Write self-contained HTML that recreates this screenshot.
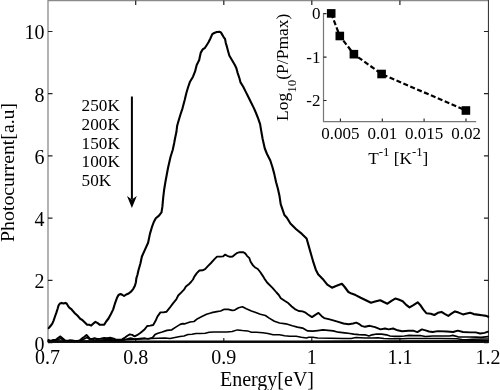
<!DOCTYPE html>
<html><head><meta charset="utf-8"><style>
html,body{margin:0;padding:0;background:#fff;width:500px;height:390px;overflow:hidden}
svg{display:block}
text{font-family:"Liberation Serif","Times New Roman",serif;fill:#000}
</style></head><body>
<svg width="500" height="390" viewBox="0 0 500 390">
<path d="M48.0,342.6V0.5H488.45" fill="none" stroke="#8a8a8a" stroke-width="1.3"/>
<path d="M488.45,0V343" fill="none" stroke="#3a3a3a" stroke-width="1.1"/>
<path d="M48.0,342.6h4.5M488.45,342.6h-4.5M48.0,280.4h4.5M488.45,280.4h-4.5M48.0,218.2h4.5M488.45,218.2h-4.5M48.0,155.9h4.5M488.45,155.9h-4.5M48.0,93.7h4.5M488.45,93.7h-4.5M48.0,31.5h4.5M488.45,31.5h-4.5M135.7,342.6v-4.5M135.7,0.5v4.5M223.8,342.6v-4.5M223.8,0.5v4.5M311.8,342.6v-4.5M311.8,0.5v4.5M399.9,342.6v-4.5M399.9,0.5v4.5" stroke="#222" stroke-width="1.2" fill="none"/>
<polyline points="48.4,341.6 300.0,341.4 350.0,341.2 488.0,341.1" fill="none" stroke="#000" stroke-width="2.0" stroke-linejoin="round" stroke-linecap="round"/>
<polyline points="48.4,341.0 100.0,341.0 140.0,339.0 151.0,338.5 165.0,338.0 170.0,338.5 175.0,337.5 180.0,336.5 184.0,336.0 188.0,334.5 192.0,334.3 196.0,333.5 200.1,333.5 205.3,333.2 209.1,332.2 214.2,331.9 220.6,331.9 227.0,331.9 232.2,331.5 237.3,329.9 242.4,330.6 247.6,330.9 251.4,332.2 256.4,332.2 262.8,332.8 267.9,333.5 273.1,334.7 279.5,334.7 284.6,335.8 289.7,336.3 296.2,336.3 301.3,337.3 306.4,337.9 308.8,337.3 312.7,337.3 317.8,338.0 330.6,338.3 343.5,338.6 351.2,338.6 356.0,337.6 364.8,338.0 372.0,338.0 378.0,337.8 384.0,338.6 390.0,338.8 402.0,338.8 408.0,338.6 414.0,338.4 420.0,338.4 440.0,338.6 457.0,338.7 462.0,339.6 466.0,339.8 472.0,339.2 488.0,339.0" fill="none" stroke="#000" stroke-width="1.5" stroke-linejoin="round" stroke-linecap="round"/>
<polyline points="48.4,341.0 55.0,340.5 58.0,339.5 61.0,338.5 64.0,340.5 70.0,341.0 80.0,341.0 84.0,339.0 87.0,337.5 90.0,339.5 95.0,340.0 100.0,340.0 110.0,339.5 118.0,340.5 124.6,339.8 130.6,338.0 135.4,339.2 140.0,338.6 145.0,338.2 148.0,339.0 152.6,337.6 155.0,334.6 158.0,333.2 162.2,332.0 167.0,330.4 171.8,329.8 175.4,327.4 180.2,324.4 182.6,323.6 185.0,323.8 190.0,322.0 194.0,321.5 197.6,318.7 201.4,316.8 206.5,314.2 211.7,312.7 216.8,311.7 220.6,311.0 223.8,309.4 228.3,309.4 232.2,310.4 234.7,310.1 238.6,307.8 242.4,306.8 246.3,308.8 251.4,311.0 255.1,312.3 260.3,314.2 265.4,315.5 269.2,318.1 274.4,321.3 279.5,323.0 285.9,323.8 292.3,325.8 297.4,327.1 302.6,328.1 306.4,330.3 307.6,330.9 312.7,331.2 317.8,330.6 323.0,329.9 328.1,330.3 333.2,330.9 338.3,332.2 344.7,332.8 349.9,333.5 353.7,334.1 358.8,334.7 365.0,334.8 369.0,336.0 372.0,334.8 376.8,334.0 381.6,334.2 386.4,334.8 390.0,336.0 394.8,336.4 399.6,336.4 404.4,336.0 409.2,335.4 414.0,335.6 420.0,335.5 425.4,336.5 432.6,336.0 440.0,336.0 449.6,336.0 452.8,335.4 458.0,336.8 470.0,337.0 476.0,337.2 481.0,337.4 488.0,336.7" fill="none" stroke="#000" stroke-width="1.7" stroke-linejoin="round" stroke-linecap="round"/>
<polyline points="48.4,340.0 50.8,340.8 53.2,340.0 55.6,340.0 58.0,338.0 60.4,336.4 62.8,338.4 65.2,340.4 67.6,340.8 70.0,340.2 72.4,340.4 74.8,341.0 77.2,341.0 79.6,340.4 82.0,338.4 84.4,336.8 86.5,335.0 89.8,338.6 92.2,339.0 94.6,338.2 97.0,339.0 100.6,338.6 104.2,338.0 107.2,338.2 110.2,337.8 113.8,338.6 116.2,339.8 119.8,339.8 122.0,339.4 125.0,337.6 127.4,335.8 129.8,334.4 132.2,334.9 134.6,336.4 137.0,335.2 140.6,332.8 144.2,329.8 147.2,326.0 150.2,325.6 153.2,325.0 155.6,320.8 157.4,316.6 160.4,312.4 163.4,312.4 166.4,311.8 169.4,308.2 173.0,303.4 176.3,299.4 178.2,295.5 181.4,292.3 184.0,289.7 185.9,286.5 188.5,284.6 191.0,282.0 193.0,279.5 194.2,276.9 196.8,273.1 199.4,270.5 202.6,270.3 205.1,269.2 207.4,266.6 211.0,263.0 214.0,259.6 217.0,256.6 220.6,256.6 223.0,256.4 225.2,254.6 227.2,255.8 230.2,256.8 232.6,256.6 235.0,254.6 237.4,252.8 239.8,252.2 243.4,252.2 245.2,253.4 247.0,255.8 249.4,258.2 250.6,261.8 253.0,265.4 254.8,267.2 257.8,269.0 260.2,272.0 262.6,275.6 264.4,278.6 267.1,282.5 272.5,287.9 276.5,292.5 278.8,295.0 280.8,298.2 284.6,300.8 288.5,303.3 291.7,306.5 294.9,309.1 298.7,311.0 302.6,311.4 305.0,312.3 307.6,314.2 312.0,317.1 315.3,314.9 318.5,312.9 321.7,316.2 324.2,318.1 328.7,319.1 333.2,320.4 338.3,321.9 343.5,323.5 348.6,324.2 353.1,323.5 356.3,322.6 358.8,323.8 361.4,325.8 365.0,326.8 369.7,325.8 375.1,327.2 380.5,329.4 385.0,328.5 388.6,329.4 393.1,328.5 397.6,330.3 402.1,331.2 408.4,330.8 413.8,330.8 417.4,332.1 421.9,329.4 425.5,330.3 429.0,331.5 432.6,332.0 437.9,331.1 446.9,331.5 453.2,332.0 457.7,330.6 463.0,332.0 470.2,332.4 475.6,332.4 480.1,333.5 484.6,332.9 488.0,331.7" fill="none" stroke="#000" stroke-width="1.9" stroke-linejoin="round" stroke-linecap="round"/>
<polyline points="48.7,328.2 50.5,326.0 52.3,323.7 53.6,320.6 55.0,316.5 56.3,312.9 57.7,308.5 58.6,305.3 59.9,303.5 61.7,302.9 63.5,303.5 65.3,302.9 66.6,303.5 68.0,305.8 69.3,307.6 71.6,309.3 72.9,311.1 75.1,313.4 77.4,315.6 79.6,317.9 80.0,318.7 82.3,320.0 84.6,322.3 86.9,324.6 89.2,324.8 91.2,325.6 93.1,323.8 95.4,321.9 97.7,323.1 99.6,324.6 101.9,324.8 104.2,324.6 106.2,321.5 108.5,318.5 110.8,314.2 113.1,309.6 114.9,303.7 116.9,298.1 118.5,295.0 120.5,294.0 122.6,295.0 124.1,296.0 126.2,294.5 128.7,293.5 131.3,291.4 133.3,288.8 134.9,285.8 135.9,282.2 136.4,278.1 137.4,275.0 138.4,270.5 140.4,263.5 141.9,256.5 145.0,249.6 148.1,242.7 150.0,233.6 151.9,227.2 153.8,222.0 155.8,218.2 159.0,215.6 161.5,212.4 162.4,206.7 163.2,197.7 164.1,190.0 165.4,182.0 168.0,168.0 170.5,157.0 172.7,150.0 174.2,143.0 175.0,138.5 176.5,131.5 177.1,126.0 178.3,121.7 180.3,115.0 182.5,108.3 184.7,100.0 186.3,93.3 188.0,87.5 190.0,81.7 193.0,76.7 195.0,71.7 196.7,65.0 199.2,60.0 199.8,57.0 200.8,52.6 202.7,49.4 205.0,47.8 206.5,45.5 208.5,42.3 210.4,38.5 212.3,34.2 214.2,33.0 216.8,32.0 219.4,31.7 220.9,32.4 222.2,34.6 223.5,36.8 225.1,39.1 225.8,43.0 227.1,47.4 228.3,51.9 229.4,55.8 230.9,58.3 232.8,61.5 234.7,64.7 236.3,68.0 237.7,73.1 239.5,78.5 240.4,82.1 243.1,86.5 245.8,91.9 248.5,97.3 251.2,102.7 253.9,108.1 256.2,113.5 258.3,118.9 260.1,124.2 261.0,129.6 262.6,138.7 264.8,148.5 267.0,154.0 270.3,160.5 272.4,167.0 274.2,173.6 276.1,182.3 277.9,188.8 279.4,195.4 280.7,204.1 282.9,210.6 284.4,215.0 286.9,217.7 290.4,223.5 296.2,229.2 301.9,233.9 306.6,238.5 308.9,246.6 311.2,254.7 313.5,262.7 315.8,269.7 318.1,274.3 322.7,278.9 327.3,284.7 332.0,287.7 336.6,285.8 341.9,283.8 344.3,286.5 348.4,292.0 351.5,293.6 355.6,295.1 360.7,297.7 365.9,300.2 371.0,302.7 375.1,301.6 380.2,300.2 384.3,302.3 387.4,303.7 391.5,300.8 395.2,298.6 398.6,299.6 402.7,301.2 406.2,304.9 409.5,307.4 413.0,305.3 417.7,302.3 420.2,304.9 423.2,309.4 426.3,313.2 430.8,313.7 434.3,315.0 437.9,312.8 441.5,311.9 445.1,314.1 448.3,315.9 451.4,313.7 455.0,311.4 458.6,312.6 463.0,314.4 465.7,313.7 470.2,312.8 473.8,314.1 477.4,314.6 481.9,315.3 486.4,315.9 488.2,316.8" fill="none" stroke="#000" stroke-width="2.1" stroke-linejoin="round" stroke-linecap="round"/>
<path d="M48.0,342.3H488.45" stroke="#111" stroke-width="1.6"/>
<g font-size="20" text-anchor="end">
<text x="44.5" y="350.5">0</text>
<text x="44.5" y="288.3">2</text>
<text x="44.5" y="226.1">4</text>
<text x="44.5" y="163.8">6</text>
<text x="44.5" y="101.6">8</text>
<text x="44.5" y="39.4">10</text>
</g>
<g font-size="20" text-anchor="middle">
<text x="47.6" y="363.5">0.7</text>
<text x="135.7" y="363.5">0.8</text>
<text x="223.8" y="363.5">0.9</text>
<text x="311.8" y="363.5">1</text>
<text x="399.9" y="363.5">1.1</text>
<text x="487.9" y="363.5">1.2</text>
</g>
<text x="267" y="385.5" font-size="20" text-anchor="middle">Energy[eV]</text>
<text transform="translate(14.1,172.4) rotate(-90)" font-size="19.8" text-anchor="middle">Photocurrent[a.u]</text>
<g font-size="17.2">
<text x="81.6" y="110.7">250K</text>
<text x="81.6" y="129.6">200K</text>
<text x="81.6" y="148.5">150K</text>
<text x="81.6" y="167.4">100K</text>
<text x="81.6" y="186.3">50K</text>
</g>
<path d="M131.9,96.5V199" stroke="#000" stroke-width="2" fill="none"/>
<path d="M131.9,208L127,196L131.9,199.5L136.8,196Z" fill="#000"/>
<path d="M323.5,13.1V121.6H476.2" stroke="#777" stroke-width="1.2" fill="none"/>
<path d="M323.5,13.6h3M323.5,57.1h3M323.5,100.5h3M340.4,121.6v-3M382.3,121.6v-3M424.1,121.6v-3M466.0,121.6v-3" stroke="#222" stroke-width="1.1" fill="none"/>
<polyline points="331.2,13.4 339.8,36.0 353.9,54.2 381.6,74.0 465.9,110.5" fill="none" stroke="#000" stroke-width="2.2" stroke-dasharray="5,2.5"/>
<rect x="326.9" y="9.1" width="8.6" height="8.6" fill="#000"/>
<rect x="335.5" y="31.7" width="8.6" height="8.6" fill="#000"/>
<rect x="349.6" y="49.9" width="8.6" height="8.6" fill="#000"/>
<rect x="377.3" y="69.7" width="8.6" height="8.6" fill="#000"/>
<rect x="461.6" y="106.2" width="8.6" height="8.6" fill="#000"/>
<g font-size="17" text-anchor="end">
<text x="320.5" y="19.4">0</text>
<text x="320.5" y="62.9">-1</text>
<text x="320.5" y="106.3">-2</text>
</g>
<g font-size="17" text-anchor="middle">
<text x="340.4" y="139.4">0.005</text>
<text x="382.3" y="139.4">0.01</text>
<text x="424.1" y="139.4">0.015</text>
<text x="466.0" y="139.4">0.02</text>
</g>
<text x="368.3" y="163.8" font-size="17.2">T<tspan font-size="12.8" dy="-7.6">-1</tspan><tspan dy="7.6"> [K</tspan><tspan font-size="12.8" dy="-7.6">-1</tspan><tspan dy="7.6">]</tspan></text>
<text transform="translate(288.4,67.3) rotate(-90)" font-size="17.5" text-anchor="middle">Log<tspan font-size="13" dy="7.5">10</tspan><tspan dy="-7.5">(P/Pmax)</tspan></text>
</svg>
</body></html>
